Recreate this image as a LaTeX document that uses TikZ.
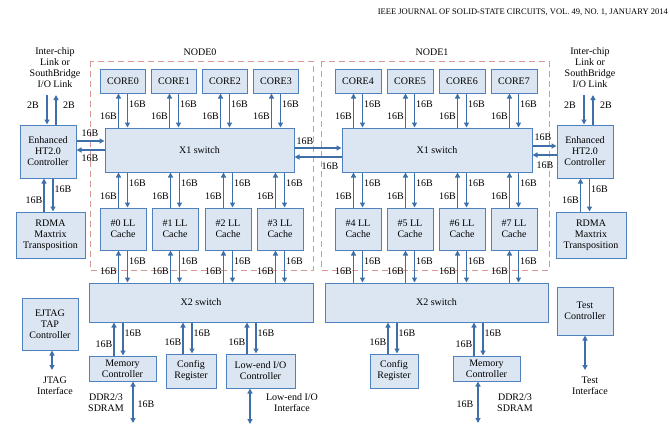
\documentclass[tikz,border=0pt]{standalone}
\usepackage{fontspec}
\setmainfont{Liberation Serif}
\usetikzlibrary{arrows.meta}
\definecolor{bfill}{HTML}{DCE6F2}
\definecolor{bline}{HTML}{4F81BD}
\definecolor{acol}{HTML}{3F6FA8}
\definecolor{dred}{HTML}{D99694}
\tikzset{
  box/.style={draw=bline,fill=bfill,line width=1pt,align=center,inner sep=1pt,font=\fontsize{10}{11}\selectfont},
  a/.style={-{Triangle[length=5pt,width=5pt]},draw=acol,line width=1.3pt},
  aa/.style={{Triangle[length=5pt,width=5pt]}-{Triangle[length=5pt,width=5pt]},draw=acol,line width=1.3pt},
  lab/.style={font=\fontsize{10}{11}\selectfont,inner sep=0.5pt},
  txt/.style={font=\fontsize{10}{11}\selectfont,align=center,inner sep=0pt},
  frame/.style={draw=dred,dashed,line width=1pt,dash pattern=on 6pt off 4pt}
}
\newcommand\vpair[3]{%
  \draw[a] (#2.north -| #3-4.5,0) -- (#1.south -| #3-4.5,0);
  \draw[a] (#1.south -| #3+4.5,0) -- (#2.north -| #3+4.5,0);
  \node[lab,anchor=west] at ([yshift=-11pt]#1.south -| #3+5.5,0) {16B};
  \node[lab,anchor=east] at ([yshift=11pt]#2.north -| #3-5.5,0) {16B};}
\newcommand\bx[5]{\node[box,minimum width=#3pt,minimum height=#4pt] (#1) at #2 {#5};}
\begin{document}
\begin{tikzpicture}[x=1pt,y=-1pt]
\useasboundingbox (0,0) rectangle (670,429);
\node[txt,anchor=east,font=\fontsize{8.5}{10}\selectfont] (hdr) at (668,12) {IEEE JOURNAL OF SOLID-STATE CIRCUITS, VOL. 49, NO. 1, JANUARY 2014};
% frames
\draw[frame] (90,61) rectangle (313,270);
\draw[frame] (321,61) rectangle (549,270);
\node[txt] (n0) at (200,52) {NODE0};
\node[txt] (n1) at (432,52) {NODE1};
% left boxes
\bx{ht0}{(48,151.5)}{56}{53}{Enhanced\\HT2.0\\Controller}
\bx{rdma0}{(50.5,235)}{69}{46}{RDMA\\Maxtrix\\Transposition}
\bx{x1a}{(199.5,150)}{189}{44}{X1 switch}
\bx{x2a}{(201,302.5)}{224}{39}{X2 switch}
\bx{ejtag}{(50,324)}{56}{52}{EJTAG\\TAP\\Controller}
\bx{mem0}{(122.5,368.5)}{67}{25}{Memory\\Controller}
\bx{cfg0}{(191,371)}{50}{34}{Config\\Register}
\bx{low0}{(260.5,371)}{69}{34}{Low-end I/O\\Controller}
\foreach \i/\x in {0/123,1/174,2/225,3/276}{
  \bx{c\i}{(\x,81)}{45}{24}{CORE\i}
  \vpair{c\i}{x1a}{\x}
}
\foreach \i/\x in {0/123,1/175,2/228,3/280}{
  \bx{l\i}{(\x,229)}{46}{42}{\#\i\ LL\\Cache}
  \vpair{x1a}{l\i}{\x}
  \vpair{l\i}{x2a}{\x}
}
\vpair{x2a}{mem0}{118.5}
\vpair{x2a}{cfg0}{187.5}
\vpair{x2a}{low0}{251.5}
\vpair{ht0}{rdma0}{48.5}
% right boxes
\bx{x1b}{(437,150)}{190}{44}{X1 switch}
\bx{ht1}{(585,151.5)}{56}{53}{Enhanced\\HT2.0\\Controller}
\bx{rdma1}{(591,235)}{70}{46}{RDMA\\Maxtrix\\Transposition}
\bx{x2b}{(436.5,302.5)}{223}{39}{X2 switch}
\bx{test}{(585,311)}{56}{48}{Test\\Controller}
\bx{cfg1}{(394,371)}{48}{34}{Config\\Register}
\bx{mem1}{(486.5,368.5)}{67}{25}{Memory\\Controller}
\foreach \i/\x in {4/358,5/410,6/462,7/514}{
  \bx{c\i}{(\x,81)}{46}{24}{CORE\i}
  \vpair{c\i}{x1b}{\x}
}
\foreach \i/\x in {4/358,5/410,6/462,7/514}{
  \bx{l\i}{(\x,229)}{46}{42}{\#\i\ LL\\Cache}
  \vpair{x1b}{l\i}{\x}
  \vpair{l\i}{x2b}{\x}
}
\vpair{x2b}{cfg1}{392.5}
\vpair{x2b}{mem1}{478.5}
\vpair{ht1}{rdma1}{585}
% horizontal links
\draw[a] (ht0.east |- 0,141) -- (x1a.west |- 0,141);
\draw[a] (x1a.west |- 0,150) -- (ht0.east |- 0,150);
\node[lab] at (90,133) {16B};
\node[lab] at (90,158) {16B};
\draw[a] (x1a.east |- 0,148) -- (x1b.west |- 0,148);
\draw[a] (x1b.west |- 0,157) -- (x1a.east |- 0,157);
\node[lab] at (305,141) {16B};
\node[lab] at (330,166) {16B};
\draw[a] (x1b.east |- 0,146) -- (ht1.west |- 0,146);
\draw[a] (ht1.west |- 0,155) -- (x1b.east |- 0,155);
\node[lab] at (543,137) {16B};
\node[lab] at (545,165) {16B};
% external links
\node[txt] (ic0) at (55,68) {Inter-chip\\Link or\\SouthBridge\\I/O Link};
\coordinate (t0a) at (47,95); \coordinate (t0b) at (56,95);
\draw[a] (t0a) -- (ht0.north -| t0a);
\draw[a] (ht0.north -| t0b) -- (t0b);
\node[lab] at (33,105) {2B};
\node[lab] at (69,105) {2B};
\node[txt] (ic1) at (590,68) {Inter-chip\\Link or\\SouthBridge\\I/O Link};
\coordinate (t1a) at (584,95); \coordinate (t1b) at (593,95);
\draw[a] (t1a) -- (ht1.north -| t1a);
\draw[a] (ht1.north -| t1b) -- (t1b);
\node[lab] at (570,105) {2B};
\node[lab] at (606,105) {2B};
\coordinate (jt) at (52,370);
\draw[aa] (ejtag.south -| jt) -- (jt);
\node[txt] (jtt) at (55,386) {JTAG\\Interface};
\coordinate (ti) at (585,370);
\draw[aa] (test.south -| ti) -- (ti);
\node[txt] (tit) at (590,386) {Test\\Interface};
\coordinate (dd0) at (133,423);
\draw[aa] (mem0.south -| dd0) -- (dd0);
\node[txt] (ddt0) at (106,403) {DDR2/3\\SDRAM};
\node[lab] at (146,404) {16B};
\coordinate (lw) at (250,424);
\draw[aa] (low0.south -| lw) -- (lw);
\node[txt] (lwt) at (292,403) {Low-end I/O\\Interface};
\coordinate (dd1) at (478,423);
\draw[aa] (mem1.south -| dd1) -- (dd1);
\node[txt] (ddt1) at (515,403) {DDR2/3\\SDRAM};
\node[lab] at (465,404) {16B};
\end{tikzpicture}
\end{document}
